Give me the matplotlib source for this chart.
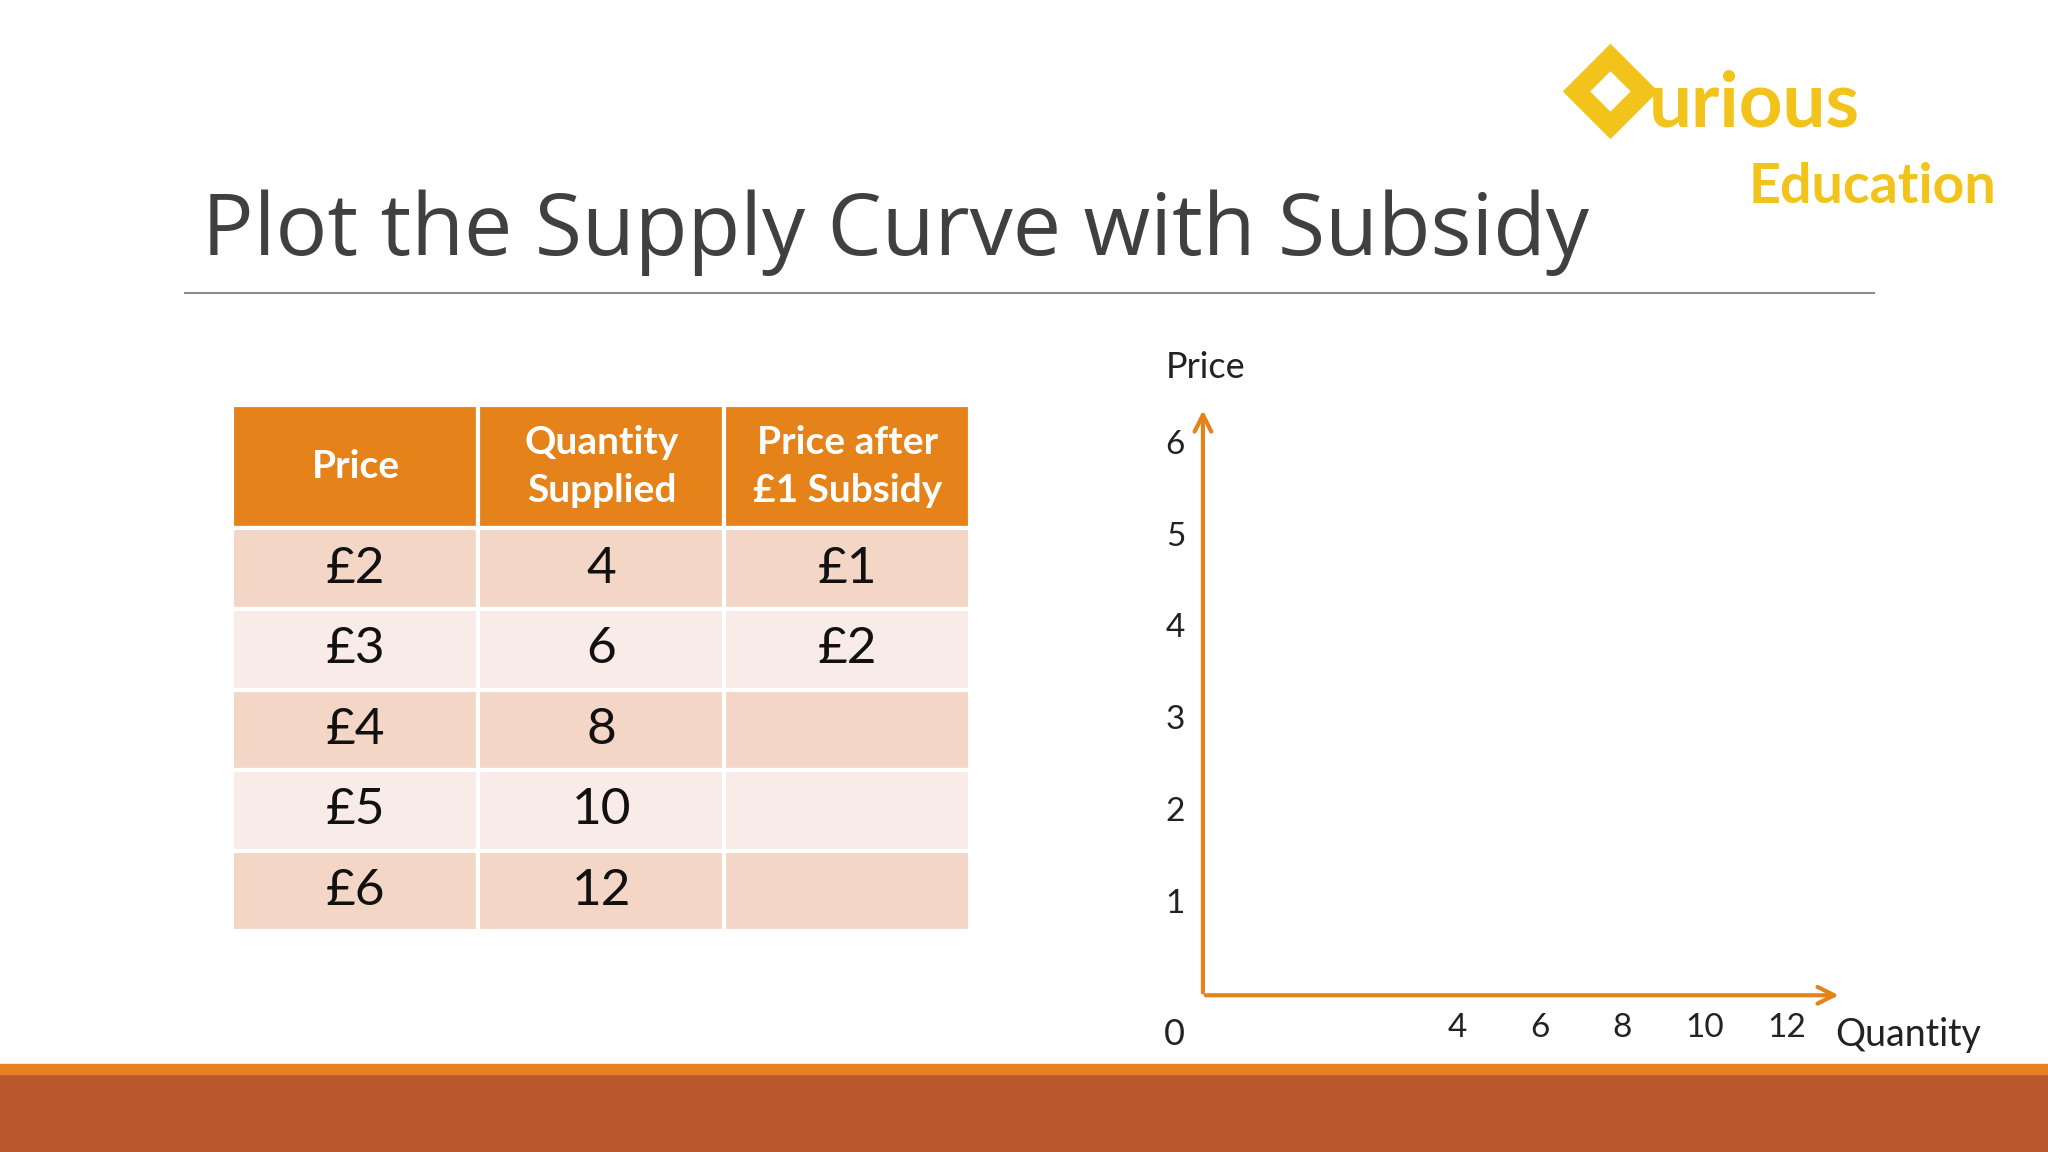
import matplotlib.pyplot as plt
from matplotlib.patches import Rectangle, Polygon

plt.rcParams['font.family'] = ['Lato', 'DejaVu Sans']

W, H = 1568.0, 882.0  # layout measured on the reference at this size

headers = ['Price', 'Quantity\nSupplied', 'Price after\n£1 Subsidy']
prices = ['£2', '£3', '£4', '£5', '£6']
quantities = ['4', '6', '8', '10', '12']
subsidised = ['£1', '£2', '', '', '']

x_ticks = [4, 6, 8, 10, 12]
y_ticks = [1, 2, 3, 4, 5, 6]

ORANGE = '#E5821A'
ROW_DARK = '#F4D6C6'
ROW_LIGHT = '#F9EBE7'
YELLOW = '#F2C41B'
TXT = '#222222'


def box(x0, y0, x1, y1):
    return [x0 / W, 1 - y1 / H, (x1 - x0) / W, (y1 - y0) / H]


fig = plt.figure(figsize=(20.48, 11.52), dpi=100)
fig.patch.set_facecolor('white')

# bottom bands
fig.patches.append(Rectangle((0, 0), 1, 60 / H, transform=fig.transFigure, color='#B9582C'))
fig.patches.append(Rectangle((0, 60 / H), 1, 7 / H, transform=fig.transFigure, color='#E8821E'))

# title and rule
fig.text(155 / W, 1 - 178 / H, 'Plot the Supply Curve with Subsidy', fontsize=62,
         color='#404040', va='center', ha='left', family=['Open Sans', 'DejaVu Sans'])
fig.lines.append(plt.Line2D([142 / W, 1435 / W], [1 - 224 / H] * 2, transform=fig.transFigure,
                            color='#8c8c8c', lw=1.5))

# logo
lx, ly = 1233 / W, 1 - 70 / H
sq = 26
pts = [(0, -sq), (sq, 0), (0, sq), (-sq, 0)]
fig.patches.append(Polygon([(lx + px / W, ly + py / H) for px, py in pts], closed=True,
                           transform=fig.transFigure, fill=False, edgecolor=YELLOW, lw=14))
fig.text(1262 / W, 1 - 80 / H, 'urious', fontsize=55, fontweight='bold', color=YELLOW,
         va='center', ha='left')
fig.text(1528 / W, 1 - 143 / H, 'Education', fontsize=40, fontweight='bold', color=YELLOW,
         va='center', ha='right')

# table
tax = fig.add_axes(box(178, 310, 743, 713))
head_h = 95 / 62.0
n = len(prices)
tax.set_xlim(0, 3)
tax.set_ylim(head_h + n, 0)
tax.axis('off')
for c, h in enumerate(headers):
    tax.add_patch(Rectangle((c, 0), 1, head_h, facecolor=ORANGE, edgecolor='white', lw=3))
    tax.text(c + 0.5, head_h / 2, h, ha='center', va='center', color='white',
             fontsize=28, fontweight='bold', linespacing=1.45)
for r in range(n):
    fc = ROW_DARK if r % 2 == 0 else ROW_LIGHT
    row = [prices[r], quantities[r], subsidised[r]]
    for c, v in enumerate(row):
        y = head_h + r
        tax.add_patch(Rectangle((c, y), 1, 1, facecolor=fc, edgecolor='white', lw=3))
        tax.text(c + 0.5, y + 0.5, v, ha='center', va='center', color='#111111', fontsize=37)

# axes for the graph
ax = fig.add_axes(box(921, 312, 1410, 762))
ax.set_xlim(-2.19, 13.33)
ax.set_ylim(0, 6.41)
ax.axis('off')
ax.annotate('', xy=(-2.19, 6.41), xytext=(-2.19, 0),
            arrowprops=dict(arrowstyle='->', color=ORANGE, lw=3, mutation_scale=30))
ax.annotate('', xy=(13.33, 0), xytext=(-2.19, 0),
            arrowprops=dict(arrowstyle='->', color=ORANGE, lw=3, mutation_scale=30))
for v in y_ticks:
    ax.text(-2.86, v, str(v), ha='center', va='center', fontsize=24, color=TXT)
for v in x_ticks:
    ax.text(v, -0.36, str(v), ha='center', va='center', fontsize=24, color=TXT)
ax.text(-2.89, -0.43, '0', ha='center', va='center', fontsize=26, color=TXT)
ax.text(-3.1, 6.85, 'Price', ha='left', va='center', fontsize=26, color=TXT)
ax.text(13.17, -0.43, 'Quantity', ha='left', va='center', fontsize=27, color=TXT)

fig.savefig('out.png', dpi=100)
